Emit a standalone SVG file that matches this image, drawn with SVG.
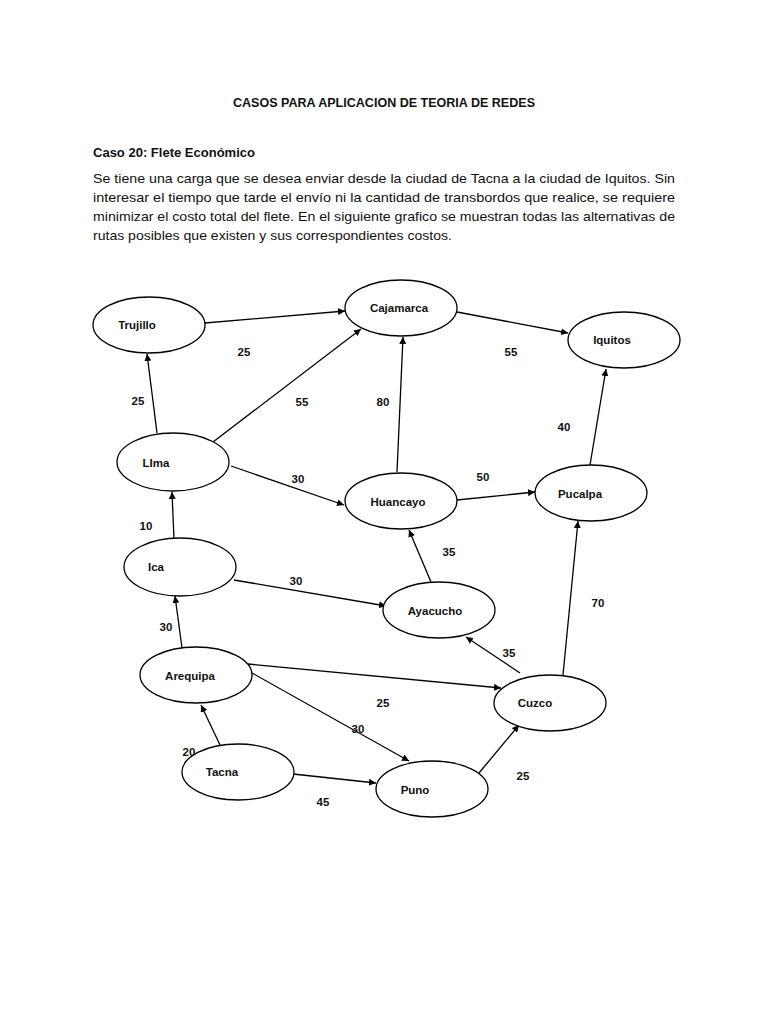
<svg xmlns="http://www.w3.org/2000/svg" width="768" height="1024" viewBox="0 0 768 1024">
<style>
.bg{fill:#fff}
.node ellipse{fill:#fff;stroke:#000;stroke-width:1.3}
.node text{font-family:"Liberation Sans",Arial,sans-serif;font-size:11.5px;font-weight:bold;fill:#111;text-anchor:middle;dominant-baseline:central}
.edges line{stroke:#000;stroke-width:1.3;marker-end:url(#arr)}
.lbl{font-family:"Liberation Sans",Arial,sans-serif;font-size:11.5px;font-weight:bold;fill:#111;text-anchor:middle;dominant-baseline:central}
.hdr{font-family:"Liberation Sans",Arial,sans-serif;font-weight:bold;fill:#111}
.par{font-family:"Liberation Sans",Arial,sans-serif;font-size:13px;fill:#111}
</style>
<defs>
<marker id="arr" viewBox="0 0 10 10" refX="10" refY="5" markerWidth="7" markerHeight="7" markerUnits="userSpaceOnUse" orient="auto">
<path d="M0,0 L10,5 L0,10 z" fill="#000"/>
</marker>
</defs>
<rect class="bg" x="0" y="0" width="768" height="1024"/>
<text class="hdr" x="384" y="107" font-size="12.5" text-anchor="middle" textLength="302" lengthAdjust="spacingAndGlyphs">CASOS PARA APLICACION DE TEORIA DE REDES</text>
<text class="hdr" x="93" y="157" font-size="13" textLength="162" lengthAdjust="spacingAndGlyphs">Caso 20: Flete Económico</text>
<text class="par" x="93" y="183" textLength="582" lengthAdjust="spacingAndGlyphs">Se tiene una carga que se desea enviar desde la ciudad de Tacna a la ciudad de Iquitos.  Sin</text>
<text class="par" x="93" y="202" textLength="582" lengthAdjust="spacingAndGlyphs">interesar el tiempo que tarde el envío ni la cantidad de transbordos que realice, se requiere</text>
<text class="par" x="93" y="221" textLength="582" lengthAdjust="spacingAndGlyphs">minimizar el costo total del flete.  En el siguiente grafico se muestran todas las alternativas de</text>
<text class="par" x="93" y="240" textLength="359" lengthAdjust="spacingAndGlyphs">rutas posibles que existen y sus correspondientes costos.</text>

<g class="edges">
<line x1="205" y1="323" x2="345" y2="311"/>
<line x1="157" y1="433" x2="147" y2="354"/>
<line x1="213" y1="442" x2="361" y2="329"/>
<line x1="397" y1="472" x2="403" y2="337"/>
<line x1="231" y1="466" x2="344" y2="505"/>
<line x1="457" y1="312" x2="568" y2="333"/>
<line x1="590" y1="465" x2="606" y2="369"/>
<line x1="457" y1="500" x2="535" y2="492"/>
<line x1="174" y1="539" x2="172" y2="492"/>
<line x1="234" y1="580" x2="386" y2="606"/>
<line x1="182" y1="648" x2="175" y2="596"/>
<line x1="248" y1="664" x2="501" y2="688"/>
<line x1="252" y1="673" x2="409" y2="761"/>
<line x1="220" y1="745" x2="201" y2="705"/>
<line x1="293" y1="774" x2="376" y2="783"/>
<line x1="479" y1="773" x2="519" y2="725"/>
<line x1="431" y1="582" x2="409" y2="530"/>
<line x1="520" y1="673" x2="466" y2="637"/>
<line x1="563" y1="675" x2="578" y2="521"/>
</g>

<g id="n-trujillo" class="node"><ellipse cx="149" cy="325" rx="56" ry="28"/><text x="137" y="325">Trujillo</text></g>
<g id="n-cajamarca" class="node"><ellipse cx="401" cy="308" rx="56" ry="28"/><text x="399" y="308">Cajamarca</text></g>
<g id="n-iquitos" class="node"><ellipse cx="624" cy="340" rx="56" ry="28"/><text x="612" y="340">Iquitos</text></g>
<g id="n-lima" class="node"><ellipse cx="173" cy="462" rx="56" ry="29"/><text x="156" y="463">LIma</text></g>
<g id="n-huancayo" class="node"><ellipse cx="401" cy="501" rx="56" ry="28"/><text x="398" y="502">Huancayo</text></g>
<g id="n-pucalpa" class="node"><ellipse cx="591" cy="493" rx="56" ry="28"/><text x="580" y="494">Pucalpa</text></g>
<g id="n-ica" class="node"><ellipse cx="180" cy="567" rx="56" ry="29"/><text x="156" y="567">Ica</text></g>
<g id="n-ayacucho" class="node"><ellipse cx="439" cy="610" rx="56" ry="28"/><text x="435" y="611">Ayacucho</text></g>
<g id="n-arequipa" class="node"><ellipse cx="196" cy="675" rx="56" ry="28"/><text x="190" y="676">Arequipa</text></g>
<g id="n-cuzco" class="node"><ellipse cx="550" cy="703" rx="56" ry="28"/><text x="535" y="703">Cuzco</text></g>
<g id="n-tacna" class="node"><ellipse cx="238" cy="772" rx="56" ry="28"/><text x="222" y="772">Tacna</text></g>
<g id="n-puno" class="node"><ellipse cx="432" cy="789" rx="56" ry="28"/><text x="415" y="790">Puno</text></g>

<g id="labels">
<text class="lbl" x="244" y="352">25</text>
<text class="lbl" x="138" y="401">25</text>
<text class="lbl" x="302" y="402">55</text>
<text class="lbl" x="383" y="402">80</text>
<text class="lbl" x="298" y="479">30</text>
<text class="lbl" x="511" y="352">55</text>
<text class="lbl" x="564" y="427">40</text>
<text class="lbl" x="483" y="477">50</text>
<text class="lbl" x="146" y="526">10</text>
<text class="lbl" x="296" y="581">30</text>
<text class="lbl" x="166" y="627">30</text>
<text class="lbl" x="383" y="703">25</text>
<text class="lbl" x="358" y="729">30</text>
<text class="lbl" x="189" y="752">20</text>
<text class="lbl" x="323" y="802">45</text>
<text class="lbl" x="449" y="552">35</text>
<text class="lbl" x="598" y="603">70</text>
<text class="lbl" x="509" y="653">35</text>
<text class="lbl" x="523" y="776">25</text>
</g>
</svg>
